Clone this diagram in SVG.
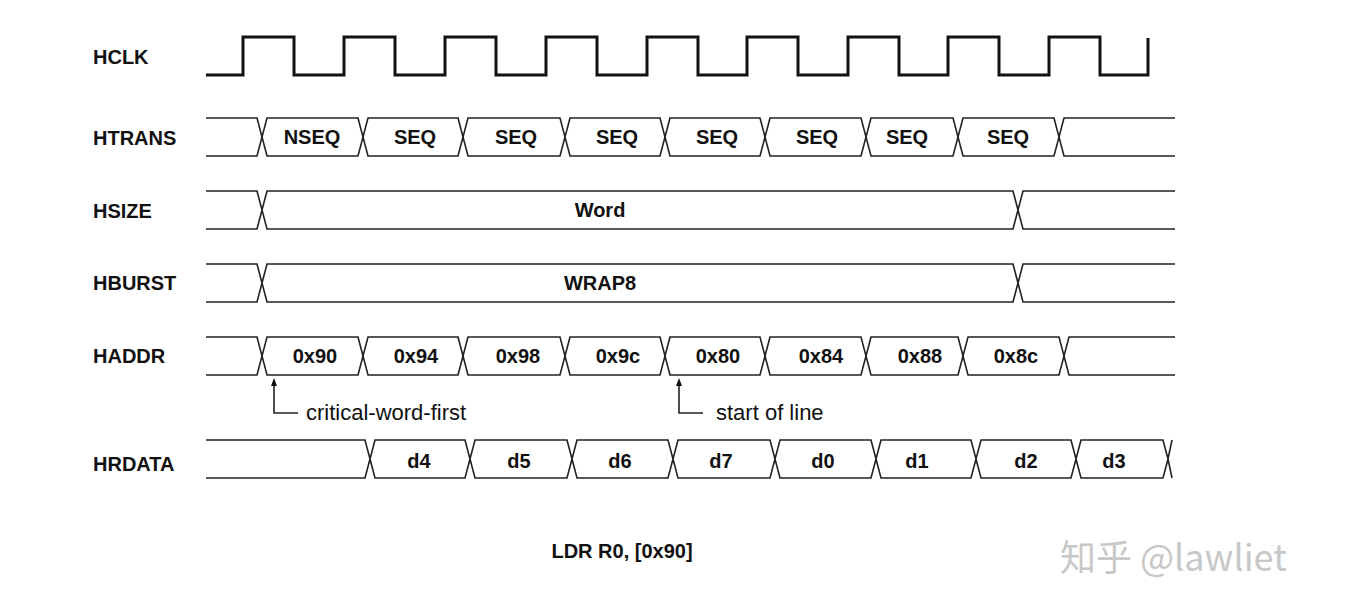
<svg xmlns="http://www.w3.org/2000/svg" width="1352" height="613" viewBox="0 0 1352 613">
<style>
.lbl{font-family:"Liberation Sans",Arial,sans-serif;font-weight:bold;font-size:20px;fill:#111}
.v{font-family:"Liberation Sans",Arial,sans-serif;font-weight:bold;font-size:20px;fill:#111;text-anchor:middle}
.n{font-family:"Liberation Sans",Arial,sans-serif;font-size:22px;fill:#111}
.w{fill:none;stroke:#222;stroke-width:1.6}
.clk{fill:none;stroke:#111;stroke-width:3}
</style>
<rect width="1352" height="613" fill="#fff"/>
<g id="labels">
<text class="lbl" x="93" y="64">HCLK</text>
<text class="lbl" x="93" y="145">HTRANS</text>
<text class="lbl" x="93" y="218">HSIZE</text>
<text class="lbl" x="93" y="290">HBURST</text>
<text class="lbl" x="93" y="363">HADDR</text>
<text class="lbl" x="93" y="471">HRDATA</text>
</g>
<g id="hclk">
<path class="clk" d="M206 75H243V37H294V75H344V37H395V75H445V37H496V75H546V37H597V75H647V37H698V75H747V37H798V75H848V37H899V75H948V37H999V75H1049V37H1100V75H1148V38"/>
</g>
<g id="htrans">
<path class="w" d="M206 118H257L267 156H358L368 118H458L468 156H560L570 118H660L670 156H760L770 118H861L871 156H953L963 118H1054L1064 156H1175"/>
<path class="w" d="M206 156H257L267 118H358L368 156H458L468 118H560L570 156H660L670 118H760L770 156H861L871 118H953L963 156H1054L1064 118H1175"/>
<text class="v" x="312" y="144">NSEQ</text><text class="v" x="415" y="144">SEQ</text><text class="v" x="516" y="144">SEQ</text><text class="v" x="617" y="144">SEQ</text><text class="v" x="717" y="144">SEQ</text><text class="v" x="817" y="144">SEQ</text><text class="v" x="907" y="144">SEQ</text><text class="v" x="1008" y="144">SEQ</text>
</g>
<g id="hsize">
<path class="w" d="M206 191H257L267 229H1013L1023 191H1175M206 229H257L267 191H1013L1023 229H1175"/>
<text class="v" x="600" y="217">Word</text>
</g>
<g id="hburst">
<path class="w" d="M206 264H257L267 302H1013L1023 264H1175M206 302H257L267 264H1013L1023 302H1175"/>
<text class="v" x="600" y="290">WRAP8</text>
</g>
<g id="haddr">
<path class="w" d="M206 337H257L267 375H358L368 337H458L468 375H560L570 337H660L670 375H760L770 337H861L871 375H958L968 337H1059L1069 375H1175"/>
<path class="w" d="M206 375H257L267 337H358L368 375H458L468 337H560L570 375H660L670 337H760L770 375H861L871 337H958L968 375H1059L1069 337H1175"/>
<text class="v" x="315" y="363">0x90</text><text class="v" x="416" y="363">0x94</text><text class="v" x="518" y="363">0x98</text><text class="v" x="618" y="363">0x9c</text><text class="v" x="718" y="363">0x80</text><text class="v" x="821" y="363">0x84</text><text class="v" x="920" y="363">0x88</text><text class="v" x="1016" y="363">0x8c</text>
</g>
<g id="hrdata">
<path class="w" d="M206 440H365L375 478H465L475 440H567L577 478H668L678 440H770L780 478H871L881 440H971L981 478H1071L1081 440H1163L1168 459M206 478H365L375 440H465L475 478H567L577 440H668L678 478H770L780 440H871L881 478H971L981 440H1071L1081 478H1163L1168 459L1172 440M1168 459L1172 478"/>
<text class="v" x="419" y="468">d4</text><text class="v" x="519" y="468">d5</text><text class="v" x="620" y="468">d6</text><text class="v" x="721" y="468">d7</text><text class="v" x="823" y="468">d0</text><text class="v" x="917" y="468">d1</text><text class="v" x="1026" y="468">d2</text><text class="v" x="1114" y="468">d3</text>
</g>
<g id="connectors">
<path class="w" d="M274 384V413H298M679 384V413H703"/>
<path d="M274 378L271 386H277Z M679 378L676 386H682Z" fill="#111"/>
</g>
<g id="annotations">
<text class="n" x="306" y="420">critical-word-first</text>
<text class="n" x="716" y="420">start of line</text>
<text class="lbl" x="622" y="558" text-anchor="middle" font-size="22">LDR R0, [0x90]</text>
<text x="1060" y="571" font-family="Noto Sans CJK SC,sans-serif" font-size="36" fill="#c8c8c8">知乎 @lawliet</text>
</g>
</svg>
